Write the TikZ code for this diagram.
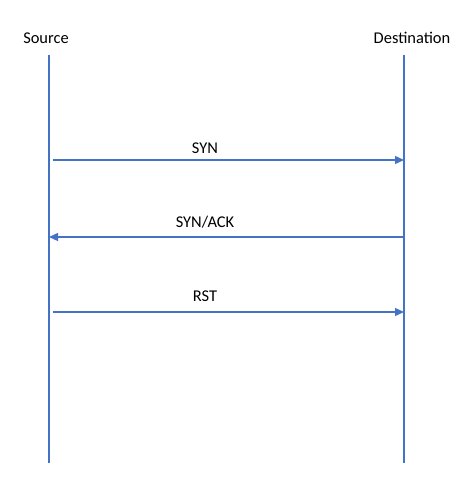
\documentclass[tikz,border=0pt]{standalone}
\usepackage{fontspec}
\setmainfont{Carlito}
\usetikzlibrary{arrows.meta, positioning}
\definecolor{Linea}{RGB}{68,114,196}

\begin{document}
\begin{tikzpicture}[
  x=1bp, y=-1bp,
  actor/.style={font=\fontsize{16.5}{19}\selectfont, inner sep=0pt},
  lbl/.style={font=\fontsize{16.5}{19}\selectfont, inner sep=0pt},
  vida/.style={Linea, line width=1.3bp},
  msg/.style={-{Triangle[length=9bp, width=8bp]}, Linea, line width=1.3bp}
]
\useasboundingbox (0,0) rectangle (474,503);

\node[actor] (src) at (46,38) {Source};
\node[actor] (dst) at (412,38) {Destination};

\coordinate (srcTop) at (49,55);
\coordinate (srcBot) at (49,463);
\coordinate (dstTop) at (404,55);
\coordinate (dstBot) at (404,463);
\draw[vida] (srcTop) -- (srcBot);
\draw[vida] (dstTop) -- (dstBot);

\coordinate (syn1) at (53,160);
\coordinate (syn2) at (404,160);
\coordinate (ack1) at (404,237);
\coordinate (ack2) at (49,237);
\coordinate (rst1) at (53,312);
\coordinate (rst2) at (404,312);

\draw[msg] (syn1) -- (syn2);
\draw[msg] (ack1) -- (ack2);
\draw[msg] (rst1) -- (rst2);

\node[lbl] (synL) at (205,148) {SYN};
\node[lbl] (ackL) at (205,222) {SYN/ACK};
\node[lbl] (rstL) at (205,296) {RST};

\end{tikzpicture}
\end{document}
